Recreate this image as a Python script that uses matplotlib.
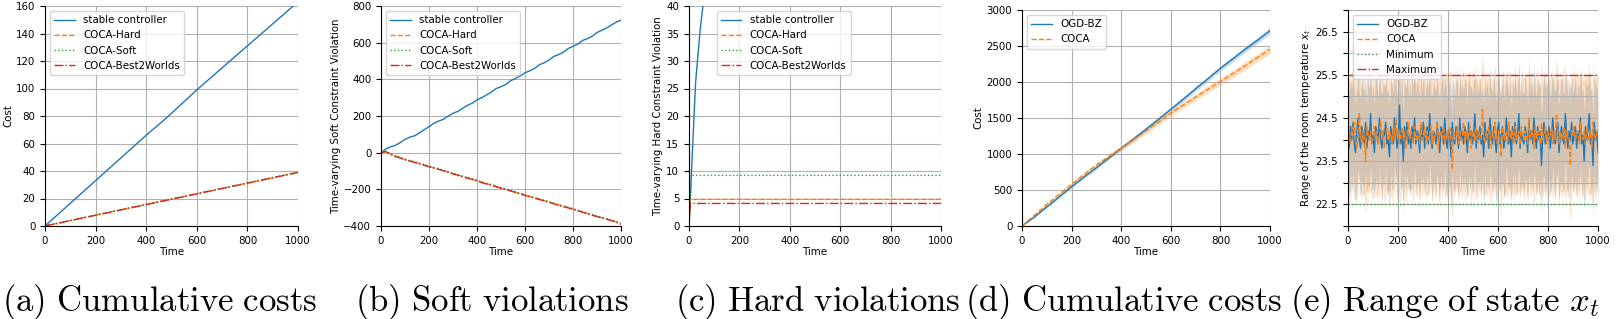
import numpy as np
import matplotlib
matplotlib.use("Agg")
import matplotlib.pyplot as plt

plt.rcParams["font.size"] = 7.4
plt.rcParams["mathtext.fontset"] = "dejavusans"

# (a) cumulative costs
a_t = [0, 100, 200, 300, 400, 470, 500, 600, 700, 800, 900, 1000]
a_stable = [0, 16.5, 33, 49.5, 66, 77, 82, 99, 115, 131, 147, 163]
a_coca_t = [0, 250, 500, 750, 1000]
a_hard = [0, 9.8, 19.5, 29.3, 39.0]
a_soft = [0, 9.9, 19.6, 29.4, 39.2]
a_best = [0, 9.8, 19.5, 29.2, 38.9]

# (b) soft violations (every 20 steps)
b_t = list(range(0, 1001, 20))
b_stable = [0, 20, 32, 40, 55, 72, 85, 92, 108, 125, 142, 160, 172, 182, 200, 215, 225,
            242, 258, 270, 288, 300, 315, 330, 350, 360, 372, 392, 405, 418, 436, 446,
            460, 480, 490, 505, 525, 535, 548, 568, 580, 592, 612, 622, 635, 655, 668,
            680, 696, 712, 722]
b_hard = [0, 6, -8, -20, -28, -38, -45, -52, -60, -68, -76, -83, -90, -98, -106, -115,
          -122, -130, -138, -145, -153, -162, -170, -176, -185, -194, -200, -208, -216,
          -224, -232, -240, -247, -255, -262, -270, -278, -286, -294, -300, -308, -316,
          -324, -332, -340, -348, -355, -362, -370, -378, -390]
b_soft = [0, 8, -6, -17, -26, -35, -43, -49, -58, -65, -73, -81, -87, -96, -103, -113,
          -119, -128, -135, -143, -150, -160, -167, -174, -182, -192, -197, -206, -213,
          -222, -229, -238, -244, -253, -259, -268, -275, -284, -291, -298, -305, -314,
          -321, -330, -337, -346, -352, -360, -367, -376, -386]
b_best = [0, 6, -9, -21, -29, -39, -46, -53, -61, -69, -77, -84, -91, -99, -107, -116,
          -123, -131, -139, -146, -154, -163, -171, -177, -186, -195, -201, -209, -217,
          -225, -233, -241, -248, -256, -263, -271, -279, -287, -295, -301, -309, -317,
          -325, -333, -341, -349, -356, -363, -371, -379, -391]

# (c) hard violations
c_stable_t = [0, 5, 10, 26, 45, 58]
c_stable = [0, 5, 10, 26, 36, 41]
c_hard_t = [0, 5, 1000]
c_hard = [0, 4.85, 4.85]
c_soft_t = [0, 10, 1000]
c_soft = [0, 9.2, 9.2]
c_best_t = [0, 5, 1000]
c_best = [0, 4.1, 4.1]

# (d) cumulative costs with bands
d_t = list(range(0, 1001, 50))
d_ogd = [0, 125, 265, 405, 546, 680, 810, 945, 1079, 1210, 1345, 1480, 1620, 1760,
         1905, 2045, 2190, 2320, 2455, 2580, 2713]
d_ogd_sd = [0, 10, 15, 18, 20, 22, 24, 25, 26, 28, 30, 30, 32, 34, 35, 36, 38, 40, 42, 44, 45]
d_coca = [0, 150, 300, 440, 579, 715, 845, 965, 1080, 1200, 1320, 1440, 1565, 1680,
          1790, 1900, 2005, 2115, 2225, 2340, 2454]
d_coca_sd = [0, 12, 18, 22, 25, 28, 30, 32, 34, 36, 38, 40, 42, 44, 46, 48, 50, 52, 54, 56, 58]

# (e) range of state x_t
e_ogd = [24.1, 23.8, 24.3, 24.0, 24.4, 23.9, 23.7, 24.2, 24.5, 24.0, 23.8, 24.3, 24.1, 23.9, 24.4, 23.8, 24.2, 24.0, 24.6, 23.9,
         24.1, 23.7, 24.3, 24.2, 23.9, 24.5, 24.0, 23.8, 24.2, 24.1, 24.4, 23.9, 24.0, 23.6, 24.3, 24.1, 23.9, 24.5, 24.2, 23.8,
         24.0, 24.8, 23.9, 24.2, 23.5, 24.3, 24.0, 24.4, 23.9, 24.1, 23.8, 24.3, 24.0, 24.5, 23.9, 24.2, 24.1, 23.7, 24.3, 24.0,
         24.4, 23.8, 24.1, 24.3, 23.9, 24.6, 24.0, 23.8, 24.2, 24.1, 23.9, 24.4, 24.0, 23.7, 24.3, 24.2, 23.9, 24.5, 24.0, 23.8,
         24.2, 24.1, 23.6, 24.4, 24.0, 23.9, 24.3, 24.1, 23.8, 24.5, 24.0, 24.2, 23.9, 24.3, 24.1, 23.7, 24.4, 24.0, 24.2, 23.9,
         24.1, 24.6, 23.8, 24.2, 24.0, 24.3, 23.9, 24.1, 23.6, 24.4, 24.0, 24.2, 23.8, 24.5, 24.1, 23.9, 24.3, 24.0, 23.7, 24.2,
         24.4, 23.9, 24.1, 24.3, 23.8, 24.0, 24.5, 24.1, 23.9, 24.2, 23.6, 24.3, 24.0, 24.4, 23.9, 24.1, 24.6, 23.8, 24.2, 24.0,
         23.9, 24.3, 24.1, 23.7, 24.4, 24.0, 24.2, 23.9, 24.5, 24.1, 23.8, 24.3, 24.0, 24.2, 23.4, 24.1, 24.4, 23.9, 24.2, 24.0,
         24.3, 23.8, 24.1, 24.5, 24.0, 23.9, 24.2, 24.4, 23.7, 24.1, 24.3, 24.0, 23.9, 24.6, 24.1, 23.8, 24.2, 24.0, 24.4, 23.9,
         24.1, 24.3, 23.8, 24.2, 24.0, 24.5, 23.9, 24.1, 23.5, 24.3, 24.0, 24.2, 24.6, 23.9, 24.1, 23.4, 24.4, 24.0, 24.2, 23.7]
e_coca = [24.0, 24.2, 23.9, 24.3, 24.1, 24.4, 24.0, 23.8, 24.2, 24.6, 24.1, 23.9, 24.2, 24.0, 23.5, 24.3, 24.1, 24.0, 24.2, 23.9,
          24.1, 24.3, 24.0, 24.2, 23.9, 24.1, 24.4, 24.0, 24.2, 23.8, 24.1, 24.3, 24.0, 24.2, 24.1, 23.9, 24.3, 24.0, 24.5, 24.1,
          24.2, 23.9, 24.1, 24.3, 24.0, 24.2, 23.8, 24.1, 24.4, 24.0, 24.2, 24.1, 23.9, 24.3, 24.0, 24.1, 24.2, 23.9, 24.4, 24.0,
          24.1, 24.3, 23.9, 24.2, 24.0, 24.1, 24.3, 23.9, 24.2, 24.0, 24.1, 24.4, 23.8, 24.2, 24.1, 24.0, 24.3, 23.9, 24.1, 24.2,
          24.0, 24.3, 24.1, 23.3, 24.2, 24.0, 24.1, 24.3, 23.9, 24.2, 24.0, 24.1, 24.4, 23.9, 24.2, 24.0, 24.1, 24.3, 23.8, 24.2,
          24.1, 24.0, 24.3, 23.9, 24.2, 24.1, 24.0, 24.7, 24.1, 23.9, 24.2, 24.0, 24.3, 24.1, 23.8, 24.2, 24.0, 24.4, 24.1, 23.9,
          24.2, 24.0, 23.6, 24.3, 24.1, 24.0, 24.2, 23.9, 24.4, 24.1, 24.0, 24.2, 23.9, 24.3, 24.0, 24.1, 24.2, 23.9, 24.3, 24.1,
          24.0, 24.2, 24.1, 23.9, 24.5, 24.0, 24.2, 24.1, 23.8, 24.3, 24.0, 24.2, 24.1, 23.9, 24.4, 24.0, 24.1, 24.3, 23.9, 24.2,
          24.0, 24.1, 24.3, 23.9, 24.2, 24.0, 24.6, 24.1, 23.9, 24.2, 24.0, 24.1, 24.3, 23.8, 24.2, 24.1, 24.0, 23.4, 24.2, 24.1,
          24.3, 24.0, 24.1, 24.2, 23.9, 24.4, 24.1, 24.0, 24.2, 23.9, 24.3, 24.1, 24.0, 24.2, 23.8, 24.4, 24.1, 24.0, 24.2, 24.1]
e_ogd_sd = [1.15, 1.22, 1.08, 1.19, 1.12, 1.25, 1.10, 1.18, 1.21, 1.06, 1.16, 1.23, 1.11, 1.20, 1.14, 1.07, 1.24, 1.13, 1.19, 1.09,
            1.17, 1.10, 1.22, 1.15, 1.08, 1.20, 1.13, 1.25, 1.11, 1.18, 1.06, 1.21, 1.14, 1.19, 1.09, 1.23, 1.12, 1.16, 1.07, 1.22,
            1.13, 1.19, 1.06, 1.24, 1.15, 1.10, 1.21, 1.17, 1.08, 1.23, 1.12, 1.18, 1.25, 1.09, 1.16, 1.20, 1.11, 1.14, 1.22, 1.07,
            1.20, 1.12, 1.17, 1.09, 1.24, 1.14, 1.06, 1.21, 1.18, 1.11, 1.23, 1.15, 1.08, 1.19, 1.13, 1.25, 1.10, 1.16, 1.22, 1.12,
            1.09, 1.23, 1.16, 1.11, 1.20, 1.07, 1.18, 1.24, 1.13, 1.15, 1.21, 1.08, 1.19, 1.12, 1.25, 1.10, 1.17, 1.22, 1.06, 1.14,
            1.18, 1.11, 1.24, 1.14, 1.07, 1.21, 1.16, 1.09, 1.23, 1.12, 1.19, 1.15, 1.08, 1.22, 1.10, 1.17, 1.25, 1.13, 1.20, 1.06,
            1.22, 1.09, 1.15, 1.20, 1.12, 1.25, 1.08, 1.17, 1.11, 1.23, 1.14, 1.06, 1.19, 1.16, 1.21, 1.10, 1.24, 1.13, 1.18, 1.09,
            1.14, 1.21, 1.07, 1.18, 1.23, 1.10, 1.16, 1.12, 1.25, 1.08, 1.20, 1.15, 1.22, 1.11, 1.17, 1.06, 1.19, 1.24, 1.13, 1.21,
            1.19, 1.08, 1.22, 1.13, 1.16, 1.24, 1.11, 1.20, 1.07, 1.18, 1.25, 1.12, 1.15, 1.09, 1.23, 1.17, 1.10, 1.21, 1.14, 1.16,
            1.11, 1.25, 1.13, 1.07, 1.20, 1.15, 1.22, 1.09, 1.18, 1.12, 1.24, 1.06, 1.17, 1.21, 1.10, 1.19, 1.14, 1.23, 1.08, 1.18]
e_coca_sd = [1.32, 1.25, 1.40, 1.28, 1.45, 1.22, 1.36, 1.30, 1.42, 1.26, 1.38, 1.24, 1.43, 1.31, 1.27, 1.44, 1.34, 1.23, 1.39, 1.29,
             1.41, 1.26, 1.35, 1.47, 1.24, 1.37, 1.30, 1.44, 1.21, 1.40, 1.28, 1.46, 1.33, 1.25, 1.41, 1.32, 1.23, 1.45, 1.30, 1.37,
             1.26, 1.42, 1.34, 1.29, 1.46, 1.24, 1.38, 1.31, 1.43, 1.27, 1.36, 1.22, 1.45, 1.33, 1.28, 1.40, 1.25, 1.44, 1.32, 1.37,
             1.23, 1.41, 1.30, 1.47, 1.26, 1.35, 1.29, 1.43, 1.24, 1.39, 1.34, 1.27, 1.45, 1.31, 1.22, 1.42, 1.36, 1.28, 1.46, 1.25,
             1.38, 1.32, 1.44, 1.26, 1.40, 1.30, 1.23, 1.45, 1.33, 1.37, 1.29, 1.43, 1.25, 1.47, 1.34, 1.27, 1.41, 1.31, 1.36, 1.44,
             1.28, 1.39, 1.24, 1.43, 1.33, 1.26, 1.46, 1.30, 1.37, 1.22, 1.42, 1.35, 1.27, 1.44, 1.31, 1.25, 1.40, 1.34, 1.29, 1.45,
             1.36, 1.23, 1.41, 1.30, 1.47, 1.27, 1.38, 1.32, 1.24, 1.43, 1.29, 1.39, 1.26, 1.45, 1.33, 1.28, 1.42, 1.22, 1.37, 1.31,
             1.44, 1.29, 1.35, 1.25, 1.41, 1.33, 1.46, 1.27, 1.38, 1.30, 1.23, 1.43, 1.36, 1.28, 1.45, 1.32, 1.26, 1.40, 1.34, 1.24,
             1.30, 1.42, 1.27, 1.37, 1.24, 1.45, 1.33, 1.29, 1.41, 1.26, 1.38, 1.31, 1.47, 1.28, 1.35, 1.22, 1.43, 1.32, 1.39, 1.27,
             1.40, 1.28, 1.44, 1.31, 1.36, 1.25, 1.42, 1.34, 1.29, 1.46, 1.23, 1.38, 1.32, 1.41, 1.27, 1.35, 1.30, 1.44, 1.26, 1.37]
e_t = np.linspace(0, 1000, len(e_ogd))
e_min = 22.5
e_max = 25.5

captions = [r"$\mathrm{(a)\ Cumulative\ costs}$",
            r"$\mathrm{(b)\ Soft\ violations}$",
            r"$\mathrm{(c)\ Hard\ violations}$",
            r"$\mathrm{(d)\ Cumulative\ costs}$",
            r"$\mathrm{(e)\ Range\ of\ state}\ x_t$"]
caption_x = [160, 492, 818, 1124, 1445]

W, H = 1616, 319
fig = plt.figure(figsize=(W / 100, H / 100), dpi=100)


def make_ax(x0, x1, y0, y1):
    ax = fig.add_axes([x0 / W, 1 - y1 / H, (x1 - x0) / W, (y1 - y0) / H])
    ax.spines["top"].set_visible(False)
    ax.spines["right"].set_visible(False)
    ax.grid(True)
    ax.set_xlim(0, 1000)
    ax.set_xticks([0, 200, 400, 600, 800, 1000])
    ax.set_xlabel("Time", labelpad=1)
    return ax


lw = 1.0

#(a)
ax = make_ax(45, 298, 6, 226)
ax.plot(a_t, a_stable, color="C0", lw=lw, label="stable controller")
ax.plot(a_coca_t, a_hard, color="C1", lw=lw, ls="--", label="COCA-Hard")
ax.plot(a_coca_t, a_soft, color="C2", lw=lw, ls=":", label="COCA-Soft")
ax.plot(a_coca_t, a_best, color="C3", lw=lw, ls="-.", label="COCA-Best2Worlds")
ax.set_ylim(0, 160)
ax.set_yticks(range(0, 161, 20))
ax.set_ylabel("Cost", labelpad=2)
ax.legend(loc="upper left")

#(b)
ax = make_ax(381, 621, 6, 226)
ax.plot(b_t, b_stable, color="C0", lw=lw, label="stable controller")
ax.plot(b_t, b_hard, color="C1", lw=lw, ls="--", label="COCA-Hard")
ax.plot(b_t, b_soft, color="C2", lw=lw, ls=":", label="COCA-Soft")
ax.plot(b_t, b_best, color="C3", lw=lw, ls="-.", label="COCA-Best2Worlds")
ax.set_ylim(-400, 800)
ax.set_yticks(range(-400, 801, 200))
ax.set_ylabel("Time-varying Soft Constraint Violation", labelpad=2)
ax.legend(loc="upper left")

#(c)
ax = make_ax(689, 941, 6, 226)
ax.plot(c_stable_t, c_stable, color="C0", lw=lw, label="stable controller")
ax.plot(c_hard_t, c_hard, color="C1", lw=lw, ls="--", label="COCA-Hard")
ax.plot(c_soft_t, c_soft, color="C2", lw=lw, ls=":", label="COCA-Soft")
ax.plot(c_best_t, c_best, color="C3", lw=lw, ls="-.", label="COCA-Best2Worlds")
ax.set_ylim(0, 40)
ax.set_yticks(range(0, 41, 5))
ax.set_ylabel("Time-varying Hard Constraint Violation", labelpad=2)
ax.legend(loc="upper left", bbox_to_anchor=(0.09, 1.0))

#(d)
ax = make_ax(1022, 1270, 10, 226)
d_ogd_a = np.array(d_ogd)
d_coca_a = np.array(d_coca)
ax.fill_between(d_t, d_ogd_a - d_ogd_sd, d_ogd_a + d_ogd_sd, color="C0", alpha=0.25, lw=0)
ax.fill_between(d_t, d_coca_a - d_coca_sd, d_coca_a + d_coca_sd, color="C1", alpha=0.25, lw=0)
ax.plot(d_t, d_ogd, color="C0", lw=lw, label="OGD-BZ")
ax.plot(d_t, d_coca, color="C1", lw=lw, ls="--", label="COCA")
ax.set_ylim(0, 3000)
ax.set_yticks(range(0, 3001, 500))
ax.set_ylabel("Cost", labelpad=2)
ax.legend(loc="upper left")

#(e)
ax = make_ax(1348, 1598, 10, 226)
e_ogd_a = np.array(e_ogd)
e_coca_a = np.array(e_coca)
ax.fill_between(e_t, e_ogd_a - e_ogd_sd, e_ogd_a + e_ogd_sd, color="C0", alpha=0.25, lw=0)
ax.fill_between(e_t, e_coca_a - e_coca_sd, e_coca_a + e_coca_sd, color="C1", alpha=0.25, lw=0)
ax.plot(e_t, e_ogd, color="C0", lw=lw, label="OGD-BZ")
ax.plot(e_t, e_coca, color="C1", lw=lw, ls="--", label="COCA")
ax.axhline(e_min, color="C2", lw=lw, ls=":", label="Minimum")
ax.axhline(e_max, color="C3", lw=lw, ls="-.", label="Maximum")
ax.set_ylim(22, 27)
yt = np.arange(22, 27.01, 0.5)
ax.set_yticks(yt)
ax.set_yticklabels([f"{v:.1f}" if v % 1 == 0.5 else "" for v in yt])
ax.set_ylabel("Range of the room temperature $x_t$", labelpad=2)
ax.legend(loc="upper left")

plt.rcParams["mathtext.fontset"] = "cm"
for cx, cap in zip(caption_x, captions):
    fig.text(cx / W, 1 - 311 / H, cap, ha="center", va="baseline", fontsize=25)

fig.savefig("out.png", dpi=100)
